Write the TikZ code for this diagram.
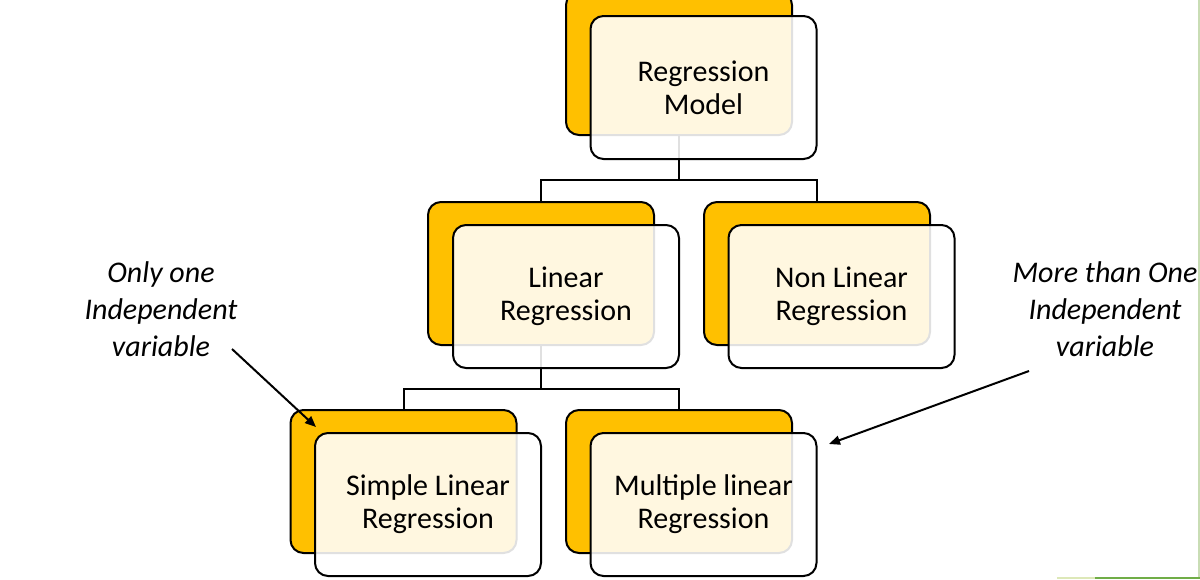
\documentclass[tikz,border=0pt]{standalone}
\usepackage{fontspec}
\setmainfont{Carlito}
\usetikzlibrary{arrows.meta}
\definecolor{gold}{HTML}{FFC000}
\definecolor{edgegreen}{HTML}{C9DDB5}
\definecolor{barlight}{HTML}{DDE8B8}
\definecolor{bargreen}{HTML}{70AD47}
\begin{document}
\begin{tikzpicture}[x=1pt,y=-1pt,
  backbox/.style={draw=black, line width=2pt, fill=gold, rounded corners=13pt,
    minimum width=226pt, minimum height=143pt, inner sep=0pt},
  frontbox/.style={draw=black, line width=2pt, fill=white, fill opacity=0.88,
    draw opacity=1, text opacity=1, rounded corners=13pt,
    minimum width=226pt, minimum height=143pt, inner sep=0pt, align=center,
    font=\fontsize{30}{33}\selectfont},
  conn/.style={draw=black, line width=2pt},
  note/.style={align=center, font=\fontsize{30}{37}\selectfont\itshape},
  callout/.style={draw=black, line width=2pt, -{Triangle[length=11pt,width=9pt]}}
]
\useasboundingbox (0,0) rectangle (1200,579);
\fill[white] (0,0) rectangle (1200,579);

% back (gold) boxes
\node[backbox] (topY) at (679,63.5) {};
\node[backbox] (linY) at (541,273.5) {};
\node[backbox] (nonY) at (817,273.5) {};
\node[backbox] (simY) at (403.5,481.5) {};
\node[backbox] (mulY) at (679,481.5) {};

% connectors
\coordinate (j1) at (679,180);
\coordinate (j2) at (541,389);
\draw[conn] (topY.south) -- (j1);
\draw[conn] (linY.north) |- (j1) -| (nonY.north);
\draw[conn] (linY.south) -- (j2);
\draw[conn] (simY.north) |- (j2) -| (mulY.north);

% front boxes
\node[frontbox] (topF) at (703.5,87.5) {Regression\\Model};
\node[frontbox] (linF) at (566,296.5) {Linear\\Regression};
\node[frontbox] (nonF) at (841.5,296.5) {Non Linear\\Regression};
\node[frontbox] (simF) at (428,504.5) {Simple Linear\\Regression};
\node[frontbox] (mulF) at (703.5,504.5) {Multiple linear\\Regression};

% notes
\node[note] (noteL) at (161,309) {Only one\\Independent\\variable};
\node[note] (noteR) at (1105,309) {More than One\\Independent\\variable};

\coordinate (aLs) at (232,349);
\coordinate (aLe) at (316,427);
\coordinate (aRs) at (1029,371);
\coordinate (aRe) at (829,444);
\draw[callout] (aLs) -- (aLe);
\draw[callout] (aRs) -- (aRe);

% edge artefacts
\draw[edgegreen, line width=1.5pt] (1199.2,0) -- (1199.2,579);
\draw[barlight, line width=2pt] (1057,578) -- (1095,578);
\draw[bargreen, line width=2pt] (1095,578) -- (1200,578);
\end{tikzpicture}
\end{document}
